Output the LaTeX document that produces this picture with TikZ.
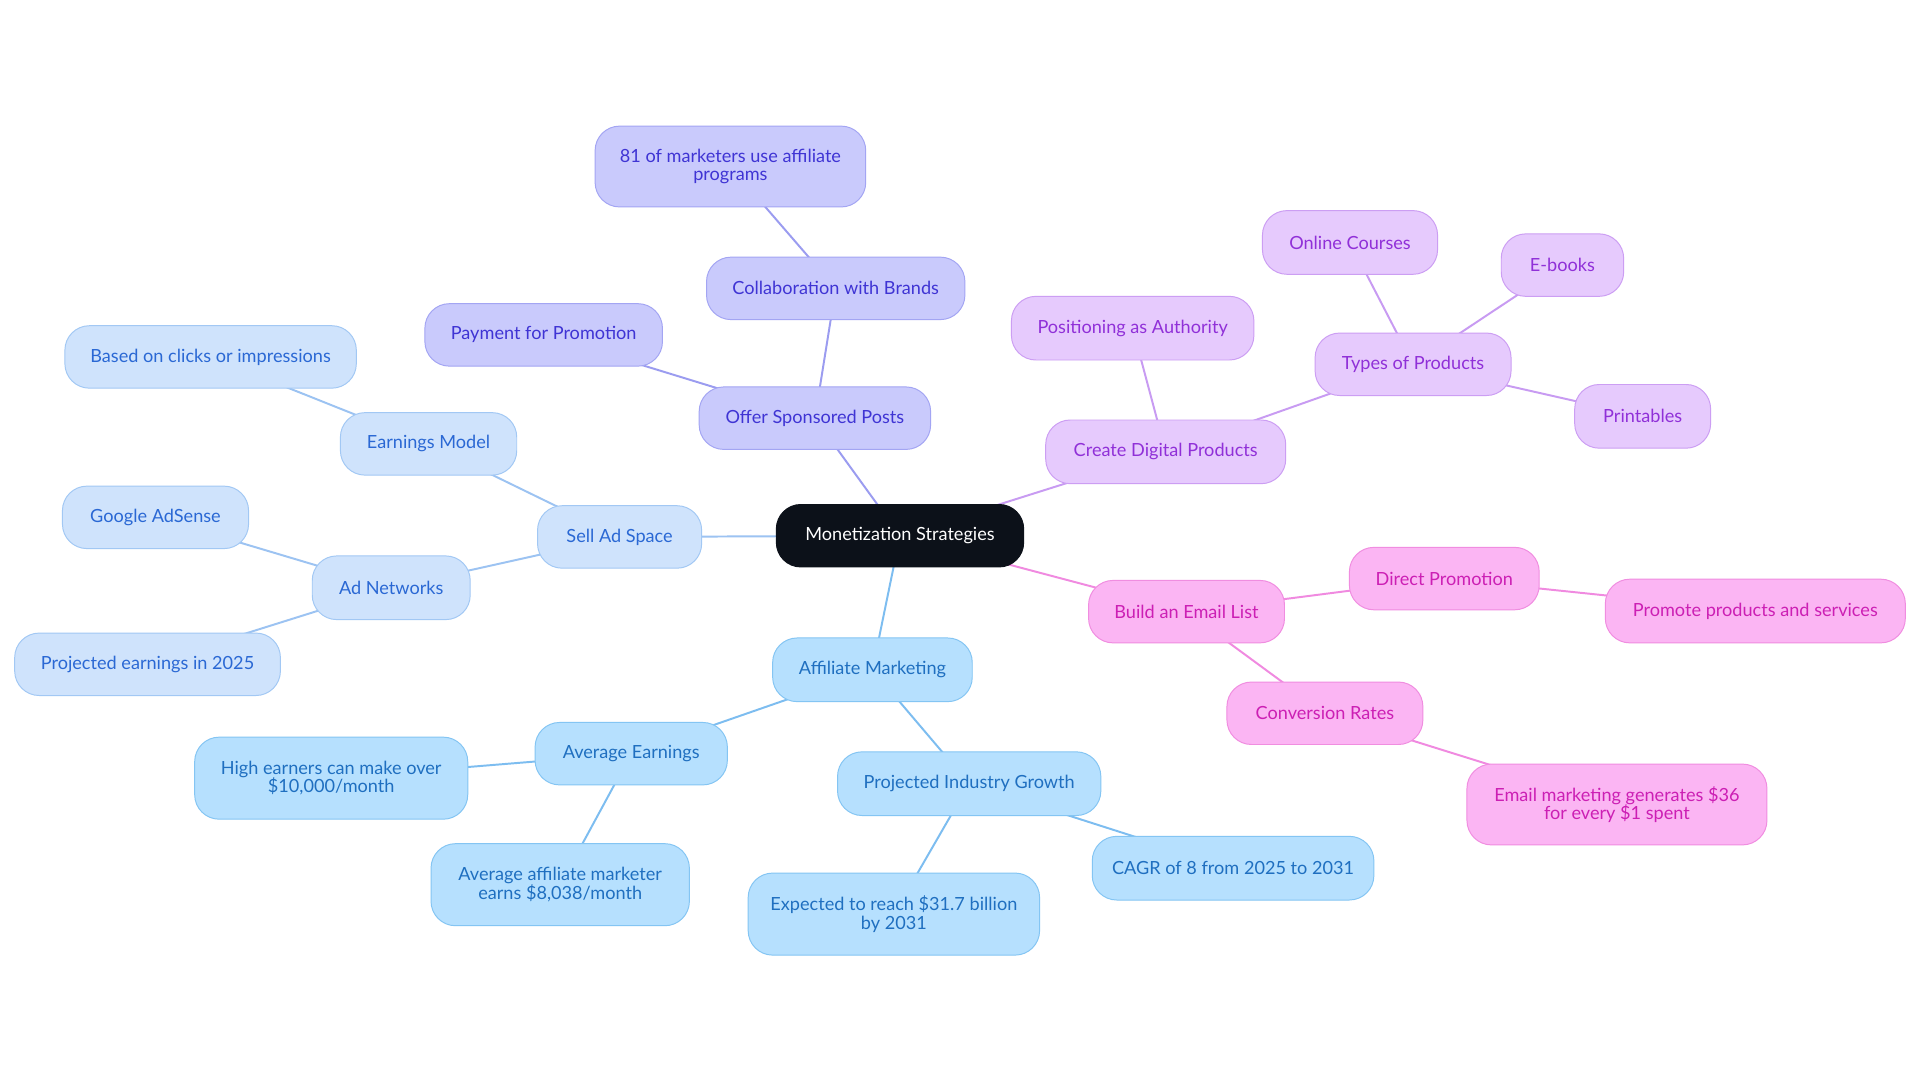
\documentclass[tikz,border=0pt]{standalone}
\usepackage{fontspec}
\setmainfont{Lato}
\pgfdeclarelayer{backdrop}
\pgfdeclarelayer{bg}
\pgfsetlayers{backdrop,bg,main}
\definecolor{cdark}{HTML}{0C1119}
\definecolor{indF}{HTML}{C9CAFC}\definecolor{indD}{HTML}{A3A5F3}\definecolor{indT}{HTML}{3F34D4}\definecolor{indL}{HTML}{9B9CF0}
\definecolor{adF}{HTML}{CFE3FC}\definecolor{adD}{HTML}{A2C8F4}\definecolor{adT}{HTML}{2A68D4}\definecolor{adL}{HTML}{9CC3F2}
\definecolor{skF}{HTML}{B6E0FE}\definecolor{skD}{HTML}{84C5F3}\definecolor{skT}{HTML}{1F6FC0}\definecolor{skL}{HTML}{7DBDF0}
\definecolor{puF}{HTML}{E6CAFD}\definecolor{puD}{HTML}{CC9EF3}\definecolor{puT}{HTML}{9030D8}\definecolor{puL}{HTML}{C89BF2}
\definecolor{piF}{HTML}{FBB5F3}\definecolor{piD}{HTML}{F08DE0}\definecolor{piT}{HTML}{CC1FB4}\definecolor{piL}{HTML}{F08AE0}
\begin{document}
\begin{tikzpicture}[x=0.5pt,y=-0.5pt,
  base/.style={rounded corners=10pt, draw, line width=0.4pt, inner sep=0pt, align=center,
    font=\fontsize{7.4}{7.5}\selectfont, yshift=-0.5pt},
  sz/.style n args={2}{minimum width=#1*0.5pt, minimum height=#2*0.5pt},
  root/.style={base, fill=cdark, draw=cdark, text=white},
  ind/.style={base, fill=indF, draw=indD, text=indT},
  ad/.style={base, fill=adF, draw=adD, text=adT},
  sk/.style={base, fill=skF, draw=skD, text=skT},
  pu/.style={base, fill=puF, draw=puD, text=puT},
  pi/.style={base, fill=piF, draw=piD, text=piT},
  ln/.style={line width=0.8pt}]
\begin{pgfonlayer}{backdrop}
\fill[white] (0,0) rectangle (1568,884);
\end{pgfonlayer}
\useasboundingbox (0,0) rectangle (1568,884);

\node[root, sz={202}{51}] (c) at (735,436.5) {Monetization Strategies};

\node[ind, sz={189}{51}] (osp) at (665.5,340.5) {Offer Sponsored Posts};
\node[ind, sz={211}{51}] (cwb) at (682.5,234.5) {Collaboration with Brands};
\node[ind, sz={221}{66}] (m81) at (596.5,135) {81 of marketers use affiliate\\programs};
\node[ind, sz={194}{51}] (pfp) at (444,272.5) {Payment for Promotion};

\node[ad, sz={134}{51}] (sas) at (506,437.5) {Sell Ad Space};
\node[ad, sz={144}{51}] (em) at (350,361.5) {Earnings Model};
\node[ad, sz={238}{51}] (boc) at (172,290.5) {Based on clicks or impressions};
\node[ad, sz={129}{52}] (an) at (319.5,479) {Ad Networks};
\node[ad, sz={152}{51}] (ga) at (127,421.5) {Google AdSense};
\node[ad, sz={217}{51}] (pe) at (120.5,541.5) {Projected earnings in 2025};

\node[sk, sz={163}{52}] (am) at (712.5,546) {Affiliate Marketing};
\node[sk, sz={157}{51}] (ae) at (515.5,614.5) {Average Earnings};
\node[sk, sz={223}{67}] (he) at (270.5,634.5) {High earners can make over\\\$10,000/month};
\node[sk, sz={211}{67}] (aa) at (457.5,721.5) {Average affiliate marketer\\earns \$8,038/month};
\node[sk, sz={215}{52}] (pig) at (791.5,639) {Projected Industry Growth};
\node[sk, sz={238}{67}] (etr) at (730,745.5) {Expected to reach \$31.7 billion\\by 2031};
\node[sk, sz={230}{52}] (cagr) at (1007,708) {CAGR of 8 from 2025 to 2031};

\node[pu, sz={196}{52}] (cdp) at (952,368) {Create Digital Products};
\node[pu, sz={198}{52}] (pa) at (925,267) {Positioning as Authority};
\node[pu, sz={160}{51}] (tp) at (1154,296.5) {Types of Products};
\node[pu, sz={143}{52}] (oc) at (1102.5,197) {Online Courses};
\node[pu, sz={100}{51}] (eb) at (1276,215.5) {E-books};
\node[pu, sz={111}{52}] (pr) at (1341.5,339) {Printables};

\node[pi, sz={160}{51}] (bel) at (969,498.5) {Build an Email List};
\node[pi, sz={155}{51}] (dp) at (1179.5,471.5) {Direct Promotion};
\node[pi, sz={245}{52}] (pps) at (1433.5,498) {Promote products and services};
\node[pi, sz={160}{51}] (cr) at (1082,581.5) {Conversion Rates};
\node[pi, sz={245}{66}] (emg) at (1320.5,656) {Email marketing generates \$36\\for every \$1 spent};

\begin{pgfonlayer}{bg}
\draw[ln, indL] (c.center) -- (osp.center) (osp.center) -- (cwb.center) (cwb.center) -- (m81.center) (osp.center) -- (pfp.center);
\draw[ln, adL] (c.center) -- (sas.center) (sas.center) -- (em.center) (em.center) -- (boc.center)
  (sas.center) -- (an.center) (an.center) -- (ga.center) (an.center) -- (pe.center);
\draw[ln, skL] (c.center) -- (am.center) (am.center) -- (ae.center) (ae.center) -- (he.center)
  (ae.center) -- (aa.center) (am.center) -- (pig.center) (pig.center) -- (etr.center) (pig.center) -- (cagr.center);
\draw[ln, puL] (c.center) -- (cdp.center) (cdp.center) -- (pa.center) (cdp.center) -- (tp.center)
  (tp.center) -- (oc.center) (tp.center) -- (eb.center) (tp.center) -- (pr.center);
\draw[ln, piL] (c.center) -- (bel.center) (bel.center) -- (dp.center) (dp.center) -- (pps.center)
  (bel.center) -- (cr.center) (cr.center) -- (emg.center);
\end{pgfonlayer}
\end{tikzpicture}
\end{document}
